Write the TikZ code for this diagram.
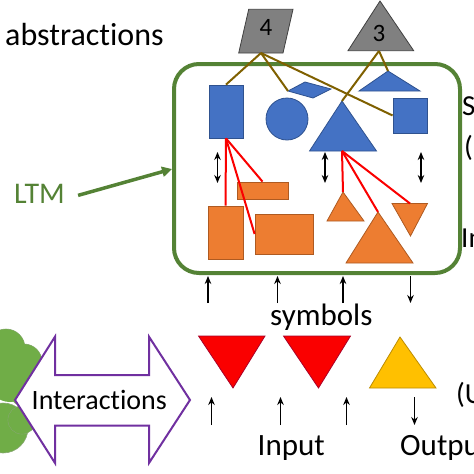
\documentclass[tikz,border=0pt]{standalone}
\usepackage{fontspec}
\setmainfont{Carlito}[Ligatures=NoCommon]
\usetikzlibrary{arrows.meta,positioning}

\definecolor{ltmgreen}{RGB}{84,130,53}
\definecolor{cloudgreen}{RGB}{112,173,71}
\definecolor{shblue}{RGB}{68,114,196}
\definecolor{shblueline}{RGB}{47,82,143}
\definecolor{shorange}{RGB}{237,125,49}
\definecolor{shorangeline}{RGB}{174,90,33}
\definecolor{shgray}{RGB}{128,128,128}
\definecolor{shyellow}{RGB}{255,192,0}
\definecolor{shyellowline}{RGB}{188,140,0}
\definecolor{shred}{RGB}{250,0,0}
\definecolor{shredline}{RGB}{170,0,40}
\definecolor{olive}{RGB}{127,96,0}
\definecolor{ipurple}{RGB}{112,48,160}

\tikzset{
  lbl/.style={inner sep=0pt, anchor=base west, font=\fontsize{31}{31}\selectfont},
  blueshape/.style={fill=shblue, draw=shblueline, line width=0.8pt, inner sep=0pt},
  orangeshape/.style={fill=shorange, draw=shorangeline, line width=0.8pt, inner sep=0pt},
  grayshape/.style={fill=shgray, draw=black!75, line width=0.8pt},
  abstrline/.style={draw=olive, line width=2pt},
  instline/.style={draw=shred, line width=2pt},
  uparrow/.style={line width=1.6pt, -{Stealth[length=8pt,width=6.5pt]}},
  dblarrow/.style={line width=1.6pt, {Stealth[length=8pt,width=6.5pt]}-{Stealth[length=8pt,width=6.5pt]}}
}

\begin{document}
\begin{tikzpicture}[x=1pt,y=-1pt]
\clip (0,0) rectangle (474,474);

% abstractions on top
\node[lbl, font=\fontsize{32}{32}\selectfont] (abstr) at (5,45) {abstractions};
\draw[grayshape] (248.7,9.3) -- (293,9.3) -- (283,53) -- (238.7,53) -- cycle;
\draw[grayshape] (380,1) -- (413.7,50.7) -- (348,50.7) -- cycle;
\node[inner sep=0pt, font=\fontsize{25}{25}\selectfont] (n4) at (266,27.5) {4};
\node[inner sep=0pt, font=\fontsize{25}{25}\selectfont] (n3) at (379,33) {3};
\coordinate (a4) at (261,53);
\coordinate (a3) at (379,51);

% long term memory
\node[draw=ltmgreen, line width=4pt, rounded corners=25pt, minimum width=286pt, minimum height=209pt] (ltmbox) at (317,168.5) {};
\node[lbl, text=ltmgreen, font=\fontsize{30}{30}\selectfont] (ltm) at (14,203) {LTM};
\coordinate (ltmin) at (172,169);
\draw[ltmgreen, line width=3.5pt, -{Triangle[length=10pt,width=10pt]}] ([xshift=13pt,yshift=-2pt]ltm.east) -- (ltmin);

% symbols inside LTM
\node[blueshape, minimum width=34pt, minimum height=53pt] (bsq1) at (226,111.5) {};
\node[blueshape, circle, minimum size=42pt] (bcirc) at (287,119) {};
\draw[blueshape] (288,91) -- (305,82) -- (331,89) -- (313,98) -- cycle;
\coordinate (bdia) at (288,91);
\draw[blueshape] (342,101) -- (376.5,151) -- (309.5,151) -- cycle;
\coordinate (btritop) at (342,101);
\coordinate (btribase) at (342,151);
\draw[blueshape] (388,71) -- (420,91) -- (359,91) -- cycle;
\coordinate (bstri) at (388,71);
\node[blueshape, minimum width=34pt, minimum height=35pt] (bsq2) at (410,115.5) {};

\node[orangeshape, minimum width=35pt, minimum height=53pt] (orect1) at (225.5,232.5) {};
\node[orangeshape, minimum width=51pt, minimum height=17pt] (orect2) at (262.5,190.5) {};
\node[orangeshape, minimum width=58pt, minimum height=40pt] (orect3) at (284,234) {};
\draw[orangeshape] (343,192) -- (364,221) -- (327,221) -- cycle;
\coordinate (otri1) at (343,192);
\draw[orangeshape] (378,212) -- (413,263) -- (346,263) -- cycle;
\coordinate (otri2) at (378,212);
\draw[orangeshape] (392,203.5) -- (427.5,203.5) -- (410.5,236) -- cycle;
\coordinate (oinv) at (410,203.5);

\draw[abstrline] (a4) -- (bsq1.north);
\draw[abstrline] (a4) -- (bdia);
\draw[abstrline] (a4) -- (bsq2.west);
\draw[abstrline] (a3) -- (btritop);
\draw[abstrline] (a3) -- (bstri);

\draw[instline] (bsq1.south) -- (orect1.north);
\draw[instline] (bsq1.south) -- (orect2.north);
\draw[instline] (bsq1.south) -- (orect3.west);
\draw[instline] (btribase) -- (otri1);
\draw[instline] (btribase) -- (otri2);
\draw[instline] (btribase) -- (oinv);

\foreach \x [count=\i] in {217.5,325,421} {
\coordinate (d\i a) at (\x,152);
\coordinate (d\i b) at (\x,183);
\draw[dblarrow] (d\i a) -- (d\i b);
}

% symbols
\node[lbl] (symb) at (270,325) {symbols};
\foreach \x [count=\i] in {208,277.5,343} {
\coordinate (s\i a) at (\x,303);
\coordinate (s\i b) at (\x,276);
\draw[uparrow] (s\i a) -- (s\i b);
}
\coordinate (s4a) at (410.5,276);
\coordinate (s4b) at (410.5,303);
\draw[uparrow] (s4a) -- (s4b);

\draw[fill=shred, draw=shredline, line width=0.8pt] (198.5,336) -- (265,336) -- (233,388) -- cycle;
\draw[fill=shred, draw=shredline, line width=0.8pt] (283.5,336) -- (350.5,336) -- (318.5,388) -- cycle;
\draw[fill=shyellow, draw=shyellowline, line width=0.8pt] (400,337) -- (436,388) -- (369.5,388) -- cycle;

\foreach \x [count=\i] in {211.5,280.5,346.5} {
\coordinate (i\i a) at (\x,425);
\coordinate (i\i b) at (\x,397);
\draw[uparrow] (i\i a) -- (i\i b);
}
\coordinate (o1a) at (414.5,397);
\coordinate (o1b) at (414.5,425);
\draw[uparrow] (o1a) -- (o1b);

\node[lbl] (inp) at (257.5,455) {Input};
\node[lbl] (outp) at (400,455) {Output};

% environment and interactions
\begin{scope}[draw=ltmgreen!70, line width=0.6pt]
\filldraw[fill=cloudgreen] (6,348) circle (19) (24,362) circle (18) (26,390) circle (17)
  (22,420) circle (14) (3,428) circle (25);
\fill[cloudgreen] (6,348) circle (18.7) (24,362) circle (17.7) (26,390) circle (16.7) (22,420) circle (13.7);
\fill[cloudgreen] (10,380) circle (22);
\end{scope}
\draw[fill=white, draw=ipurple, line width=2pt, line join=miter]
  (15,400) -- (55,336.7) -- (55,375) -- (149,375) -- (149,336.7) -- (190,400)
  -- (149,463) -- (149,425.7) -- (55,425.7) -- (55,463) -- cycle;
\node[lbl, font=\fontsize{28}{28}\selectfont] (inter) at (31.5,409) {Interactions};

% cut labels at the right edge
\node[lbl, font=\fontsize{29}{29}\selectfont] (rs) at (462,115) {S};
\node[lbl, font=\fontsize{29}{29}\selectfont] (rp) at (464,156) {(};
\node[lbl, font=\fontsize{29}{29}\selectfont] (rin) at (461,247) {In};
\node[lbl, font=\fontsize{29}{29}\selectfont] (ru) at (456,403) {(U};
\end{tikzpicture}
\end{document}
